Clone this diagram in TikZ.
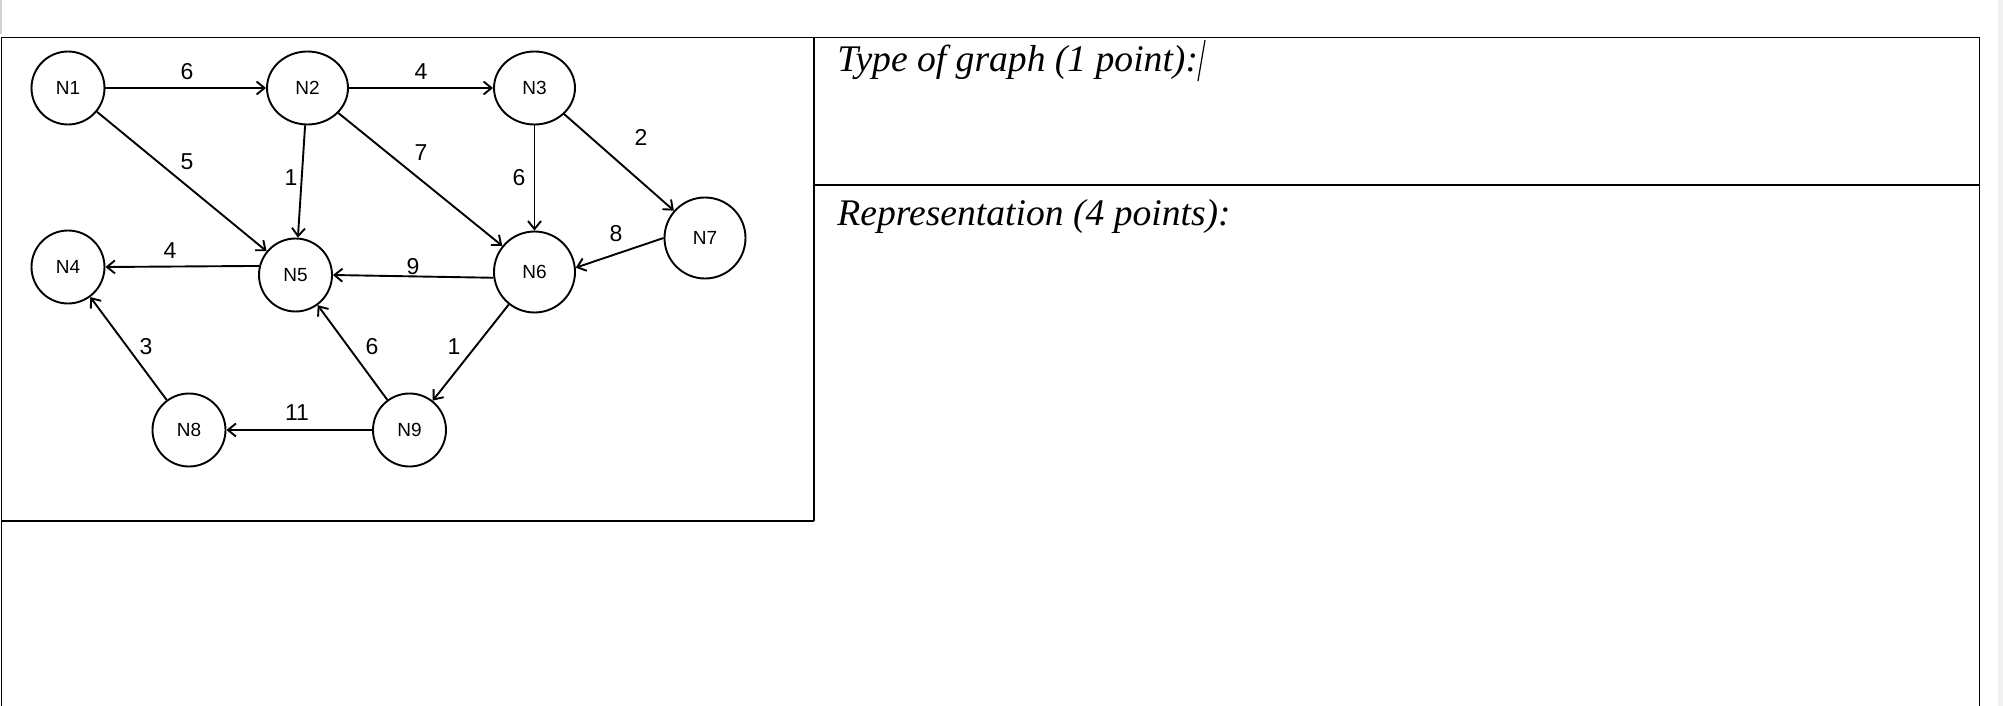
\documentclass[tikz,border=0pt]{standalone}
\usepackage{fontspec}
\setmainfont{Liberation Serif}
\newfontfamily\arialf{Liberation Sans}
\usetikzlibrary{arrows.meta,shapes.geometric}
\begin{document}
\begin{tikzpicture}[x=0.5pt,y=-0.5pt,
  gnode/.style={circle,draw,line width=0.95pt,minimum size=36.5pt,inner sep=0pt,font=\arialf\fontsize{9.5}{11}\selectfont},
  wnode/.style={ellipse,draw,line width=0.95pt,minimum width=40.5pt,minimum height=36.5pt,inner sep=0pt,font=\arialf\fontsize{9.5}{11}\selectfont},
  bnode/.style={circle,draw,line width=0.95pt,minimum size=40.5pt,inner sep=0pt,font=\arialf\fontsize{9.5}{11}\selectfont},
  edge/.style={-{Straight Barb[length=4pt,width=6.5pt]},line width=0.95pt},
  wlab/.style={font=\arialf\fontsize{11.5}{13}\selectfont,inner sep=0pt},
  grid/.style={line width=0.7pt},
  hint/.style={font=\itshape\fontsize{18.8}{22}\selectfont,anchor=base west,inner sep=0pt}]
\useasboundingbox (0,0) rectangle (2003,706);
% page edges
\fill[gray!12] (1998,0) rectangle (2003,706);
\fill[gray!35] (0,0) rectangle (1.5,34);
% table
\draw[grid] (1.5,37.3) -- (1979.3,37.3);
\draw[grid] (1.5,37.3) -- (1.5,706);
\draw[grid] (1979.3,37.3) -- (1979.3,706);
\draw[grid] (814,37.3) -- (814,521);
\draw[line width=1pt] (1.5,521) -- (814,521);
\draw[grid] (814,185) -- (1979.3,185);
% texts
\node[hint] (t1) at (837,72) {Type of graph (1 point):};
\node[hint] (t2) at (837,225) {Representation (4 points):};
\draw[line width=0.6pt] (1205,40) -- (1198,81);
% graph nodes
\node[gnode] (N1) at (68,88) {N1};
\node[wnode] (N2) at (307.5,88) {N2};
\node[wnode] (N3) at (534.5,88) {N3};
\node[gnode] (N4) at (68,267) {N4};
\node[gnode] (N5) at (295.5,275) {N5};
\node[bnode] (N6) at (534.5,272) {N6};
\node[bnode] (N7) at (705,238) {N7};
\node[gnode] (N8) at (189,430) {N8};
\node[gnode] (N9) at (409.5,430) {N9};
% edges
\draw[edge] (N1) -- (N2);
\draw[edge] (N2) -- (N3);
\draw[edge] (N1) -- (N5);
\draw[edge] (N2) -- (N5);
\draw[edge] (N2) -- (N6);
\draw[edge] (N3) -- (N6);
\draw[edge] (N3) -- (N7);
\draw[edge] (N7.180) -- (N6.6);
\draw[edge] (N6.188) -- (N5.east);
\draw[edge] (N5.166) -- (N4.east);
\draw[edge] (N8) -- (N4);
\draw[edge] (N9) -- (N5);
\draw[edge] (N6) -- (N9);
\draw[edge] (N9) -- (N8);
% weights
\node[wlab] (w12) at (187,72) {6};
\node[wlab] (w23) at (421,72) {4};
\node[wlab] (w15) at (187,162) {5};
\node[wlab] (w25) at (291,178) {1};
\node[wlab] (w26) at (421,153) {7};
\node[wlab] (w36) at (519,178) {6};
\node[wlab] (w37) at (641,137) {2};
\node[wlab] (w76) at (616,234) {8};
\node[wlab] (w65) at (413,267) {9};
\node[wlab] (w54) at (170,251) {4};
\node[wlab] (w84) at (146,347) {3};
\node[wlab] (w95) at (372,347) {6};
\node[wlab] (w69) at (454,347) {1};
\node[wlab] (w98) at (297,413) {11};
\end{tikzpicture}
\end{document}
